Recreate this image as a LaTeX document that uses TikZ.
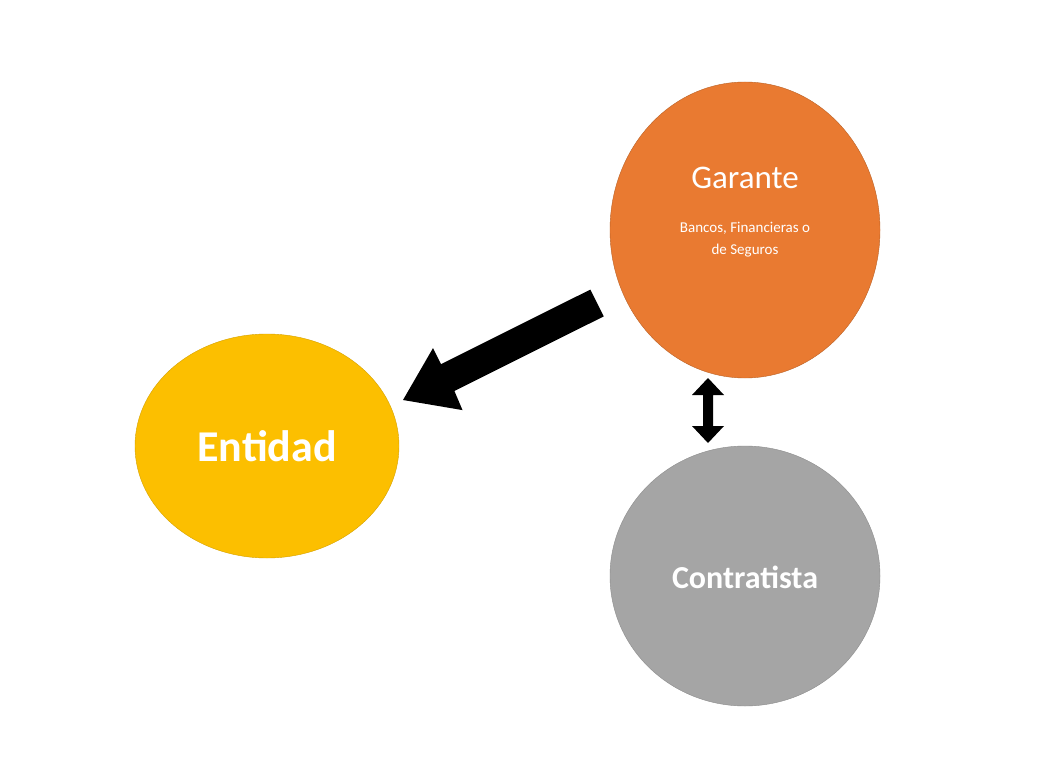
\documentclass[tikz,border=0pt]{standalone}
\usepackage{fontspec}
\setmainfont{Carlito}
\definecolor{orangeG}{HTML}{E97A31}
\definecolor{yellowE}{HTML}{FCBF00}
\definecolor{greyC}{HTML}{A5A5A5}
\begin{document}
\begin{tikzpicture}[x=1pt,y=-1pt,
  blob/.style={ellipse,draw=#1!85!black,fill=#1,line width=0.6pt},
  lbl/.style={text=white,font=\bfseries}]
\usetikzlibrary{shapes.geometric}
\useasboundingbox (0,0) rectangle (1043,775);
\fill[white] (0,0) rectangle (1043,775);
\filldraw[fill=orangeG,draw=orangeG!80!black] (745,230) ellipse [x radius=135,y radius=148];
\filldraw[fill=yellowE,draw=yellowE!85!black] (267,446) ellipse [x radius=132,y radius=112];
\filldraw[fill=greyC,draw=greyC!85!black] (745,576) ellipse [x radius=135,y radius=130];
\node[text=white,font=\fontsize{33}{36}\selectfont] (g) at (745,178) {Garante};
\node[text=white,font=\fontsize{15}{22}\selectfont,align=center] (gs) at (745,240) {Bancos, Financieras o\\de Seguros};
\node[lbl,font=\fontsize{44}{48}\selectfont\bfseries] (e) at (267,446) {Entidad};
\node[lbl,font=\fontsize{32}{36}\selectfont\bfseries] (c) at (745,577) {Contratista};
\fill[black] (603.7,316.4) -- (590.3,289.6) -- (441.0,364.2) -- (433,348.1) -- (403,400) -- (462.5,410.1) -- (454.4,391.0) -- cycle;
\fill[black] (708,378) -- (724,395) -- (713,395) -- (713,426) -- (724,426) -- (708,443) -- (692,426) -- (703,426) -- (703,395) -- (692,395) -- cycle;
\end{tikzpicture}
\end{document}
